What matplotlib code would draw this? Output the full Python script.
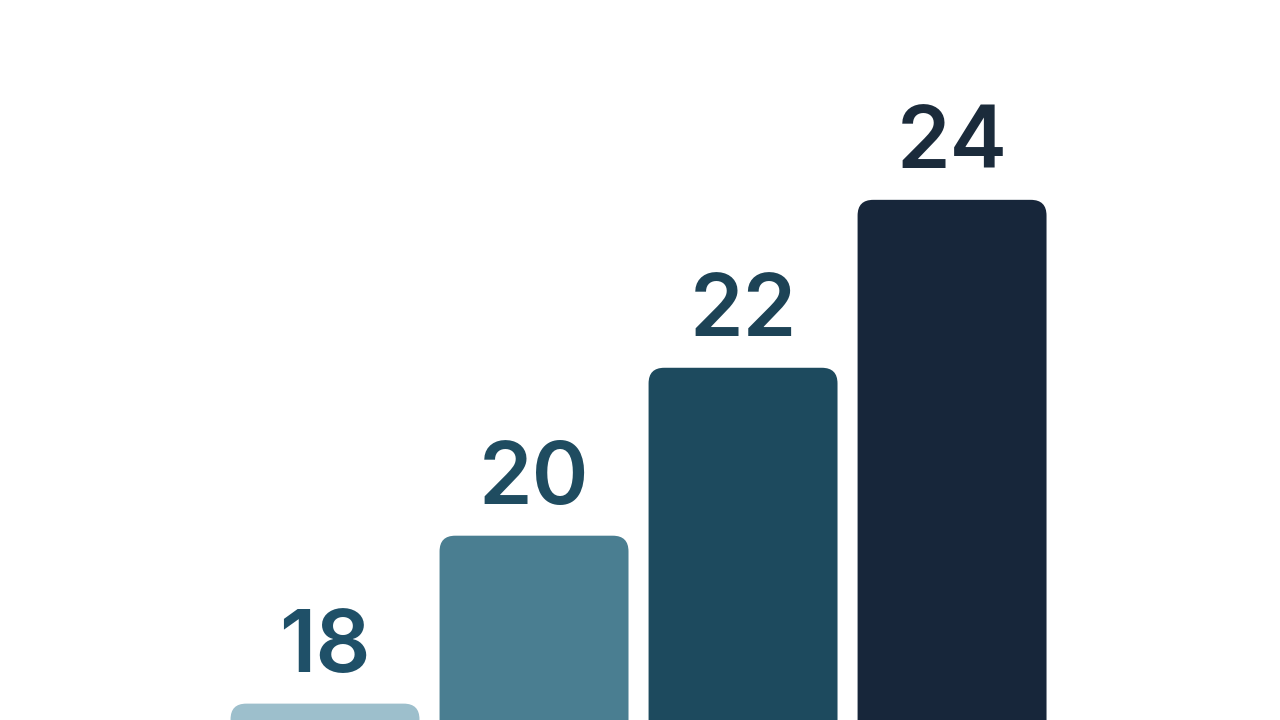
import matplotlib
matplotlib.use("Agg")
import matplotlib.pyplot as plt
from matplotlib.patches import FancyBboxPatch

values = [18, 20, 22, 24]
labels = ["18", "20", "22", "24"]
bar_colors = ["#9dbfcc", "#4a7e91", "#1d4a5e", "#17263a"]
label_colors = ["#1f5068", "#1f4c60", "#1d4356", "#1b2b3b"]

fig = plt.figure(figsize=(12.8, 7.2), dpi=100)
fig.patch.set_facecolor("white")
ax = fig.add_axes([0, 0, 1, 1])
ax.set_facecolor("white")

x = list(range(len(values)))
width = 0.904
bars = ax.bar(x, values, width=width, color=bar_colors)

ax.set_xlim(-1.555, 4.569)
ax.set_ylim(17.805, 26.38)

# replace bars with rounded versions
aspect = 209 / 83.95
for b, c in zip(bars, bar_colors):
    b.set_visible(False)
    p = FancyBboxPatch((b.get_x(), b.get_y()), b.get_width(), b.get_height(),
                       boxstyle="round,pad=0,rounding_size=0.075",
                       mutation_aspect=aspect, facecolor=c, edgecolor="none")
    ax.add_patch(p)

for xi, v, lab, lc in zip(x, values, labels, label_colors):
    ax.annotate(lab, (xi, v), xytext=(0, 23), textcoords="offset points",
                ha="center", va="baseline", fontsize=62, fontweight="semibold",
                family="Inter", color=lc)

ax.axis("off")
fig.savefig("out.png", dpi=100, facecolor="white")
